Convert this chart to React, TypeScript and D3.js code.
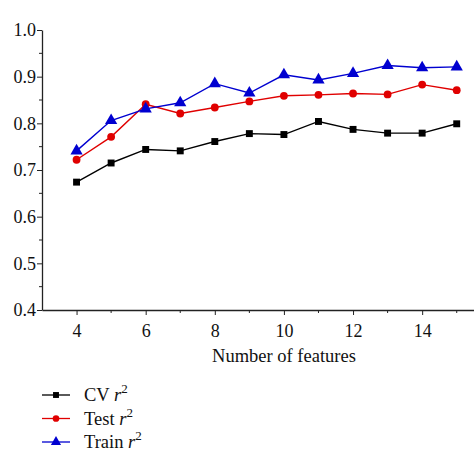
import { useEffect, useRef } from "react";
import * as d3 from "d3";

const features = [4, 5, 6, 7, 8, 9, 10, 11, 12, 13, 14, 15];
const cvR2 = [0.674, 0.715, 0.744, 0.741, 0.761, 0.778, 0.776, 0.804, 0.787, 0.779, 0.779, 0.799];
const testR2 = [0.722, 0.771, 0.841, 0.821, 0.834, 0.847, 0.859, 0.861, 0.864, 0.862, 0.883, 0.871];
const trainR2 = [0.741, 0.806, 0.831, 0.844, 0.885, 0.865, 0.904, 0.893, 0.907, 0.924, 0.919, 0.921];
const xTicks = [4, 6, 8, 10, 12, 14];
const yTicks = [0.4, 0.5, 0.6, 0.7, 0.8, 0.9, 1.0];

const series = [
  { name: "CV", values: cvR2, color: "#000000", shape: d3.symbolSquare },
  { name: "Test", values: testR2, color: "#e00000", shape: d3.symbolCircle },
  { name: "Train", values: trainR2, color: "#0000d0", shape: d3.symbolTriangle },
];

const FONT = "'Liberation Serif', 'DejaVu Serif', serif";

const Chart = () => {
  const svgRef = useRef<SVGSVGElement | null>(null);

  useEffect(() => {
    const width = 474,
      height = 474;
    const svg = d3.select(svgRef.current).attr("width", width).attr("height", height);
    svg.selectAll("*").remove();

    const x = d3.scaleLinear().domain([3, 15.5]).range([42, 474]);
    const y = d3.scaleLinear().domain([0.4, 1.0]).range([310, 30]);

    // axes
    const xAxis = svg
      .append("g")
      .attr("transform", `translate(0,${y(0.4)})`)
      .call(d3.axisBottom(x).tickValues(xTicks).tickFormat(d3.format("d")).tickSize(5).tickSizeOuter(0));
    xAxis
      .append("g")
      .selectAll("line")
      .data(d3.range(5, 16, 2))
      .join("line")
      .attr("x1", (d) => x(d))
      .attr("x2", (d) => x(d))
      .attr("y1", 0)
      .attr("y2", 3)
      .attr("stroke", "#222");

    const yAxis = svg
      .append("g")
      .attr("transform", `translate(${x(3)},0)`)
      .call(d3.axisLeft(y).tickValues(yTicks).tickFormat(d3.format(".1f")).tickSize(5).tickSizeOuter(0));
    yAxis
      .append("g")
      .selectAll("line")
      .data(d3.range(0.45, 1.0, 0.1))
      .join("line")
      .attr("x1", 0)
      .attr("x2", -3)
      .attr("y1", (d) => y(d))
      .attr("y2", (d) => y(d))
      .attr("stroke", "#222");

    svg.selectAll(".domain").attr("stroke", "#222").attr("stroke-width", 1.3);
    svg.selectAll(".tick line").attr("stroke", "#222");
    svg
      .selectAll(".tick text")
      .attr("font-family", FONT)
      .attr("font-size", 18)
      .attr("fill", "#111");
    yAxis.selectAll(".tick text").attr("x", -6);
    xAxis.selectAll(".tick text").attr("dy", "1.05em");

    svg
      .append("text")
      .attr("x", 284)
      .attr("y", 362)
      .attr("text-anchor", "middle")
      .attr("font-family", FONT)
      .attr("font-size", 18.5)
      .attr("fill", "#111")
      .text("Number of features");

    const line = d3
      .line<number>()
      .x((_, i) => x(features[i]))
      .y((d) => y(d));

    series.forEach((s) => {
      svg
        .append("path")
        .datum(s.values)
        .attr("fill", "none")
        .attr("stroke", s.color)
        .attr("stroke-width", 1.4)
        .attr("d", line);
      svg
        .append("g")
        .selectAll("path")
        .data(s.values)
        .join("path")
        .attr("transform", (d, i) => `translate(${x(features[i])},${y(d)})`)
        .attr("d", d3.symbol().type(s.shape).size(s.shape === d3.symbolTriangle ? 65 : 48)())
        .attr("fill", s.color);
    });

    // legend
    const legend = svg.append("g").attr("transform", "translate(42,395)");
    series.forEach((s, i) => {
      const g = legend.append("g").attr("transform", `translate(0,${i * 23.5})`);
      g.append("line").attr("x1", 0).attr("x2", 28).attr("stroke", s.color).attr("stroke-width", 1.3);
      g.append("path")
        .attr("transform", "translate(14,0)")
        .attr("d", d3.symbol().type(s.shape).size(s.shape === d3.symbolTriangle ? 45 : 35)())
        .attr("fill", s.color);
      const t = g
        .append("text")
        .attr("x", 42)
        .attr("y", 6)
        .attr("font-family", FONT)
        .attr("font-size", 18.5)
        .attr("fill", "#111");
      t.append("tspan").text(`${s.name} `);
      t.append("tspan").attr("font-style", "italic").text("r");
      t.append("tspan").attr("font-size", 13).attr("dy", -8).text("2");
    });
  }, []);

  return <svg ref={svgRef} style={{ position: "absolute", left: 0, top: 0, background: "#fff" }}></svg>;
};

export default function App() {
  return <Chart />;
}
